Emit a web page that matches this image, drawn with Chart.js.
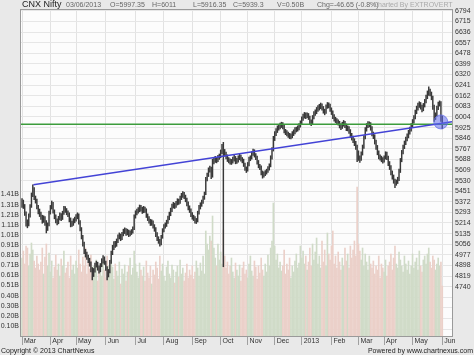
<!DOCTYPE html>
<html>
<head>
<meta charset="utf-8">
<title>CNX Nifty</title>
<script src="https://cdn.jsdelivr.net/npm/chart.js"></script>
<style>
    html, body { margin: 0; padding: 0; background: #e9e9e9; }
    #wrap { width: 474px; height: 355px; position: relative; }
</style>
</head>
<body>
<div id="wrap"><canvas id="niftyChart"></canvas></div>
<script>
// daily closes, 1 Mar 2012 .. 3 Jun 2013 (trading days)
const closes = [
    5370,5340,5290,5220,5200,5270,5340,5420,5470,5400, 5380,5330,5300,5280,5260,5230,5250,5220,5170,5200,
    5290,5330,5360,5300,5260,5230,5220,5250,5270,5250, 5290,5320,5310,5290,5280,5240,5200,5210,5230,5240,
    5260,5270,5220,5170,5110,5060,5000,4980,4960,4940, 4910,4870,4830,4860,4900,4910,4880,4860,4900,4930,
    4950,4920,4880,4840,4850,4920,4990,5030,5060,5050, 5080,5110,5120,5100,5130,5150,5160,5140,5150,5130,
    5140,5150,5170,5260,5290,5300,5310,5330,5320,5300, 5320,5310,5270,5250,5230,5210,5220,5190,5170,5130,
    5100,5080,5060,5110,5160,5190,5200,5220,5250,5280, 5310,5340,5350,5340,5360,5380,5370,5400,5420,5430,
    5410,5390,5360,5330,5310,5280,5260,5250,5230,5230, 5290,5330,5350,5370,5400,5430,5540,5570,5610,5620,
    5560,5670,5680,5690,5680,5700,5710,5740,5780,5750, 5730,5710,5690,5680,5670,5670,5690,5700,5670,5680,
    5700,5710,5690,5680,5650,5620,5610,5650,5690,5700, 5730,5750,5720,5700,5670,5640,5630,5590,5570,5580,
    5590,5600,5620,5640,5700,5760,5840,5880,5900,5920, 5930,5940,5950,5930,5900,5890,5880,5870,5860,5860,
    5880,5890,5910,5910,5920,5940,5960,5990,6010,6020, 6010,6020,6000,5970,5960,6000,6030,6040,6060,6070,
    6080,6090,6070,6050,6040,6080,6100,6090,6060,6040, 6010,5990,5980,5970,5960,5940,5930,5950,5960,5940,
    5920,5920,5900,5870,5850,5830,5810,5780,5740,5700, 5690,5730,5780,5850,5910,5940,5950,5950,5920,5880,
    5860,5820,5780,5740,5710,5700,5690,5680,5700,5730, 5700,5660,5630,5590,5560,5530,5510,5520,5540,5600,
    5680,5740,5780,5810,5840,5860,5890,5910,5940,5970, 6000,6040,6070,6090,6100,6080,6060,6090,6120,6150,
    6180,6200,6180,6150,6080,6000,6020,6070,6100,6110, 5986,5939
];
const highs = [
    5395,5385,5352,5298,5238,5282,5352,5438,5499,5478, 5415,5392,5345,5318,5296,5272,5268,5262,5232,5215,
    5302,5345,5378,5368,5312,5275,5245,5264,5290,5284, 5302,5338,5336,5322,5305,5290,5252,5228,5246,5258,
    5276,5290,5282,5232,5180,5122,5072,5018,4998,4975, 4952,4925,4882,4875,4915,4930,4922,4895,4912,4948,
    4972,4962,4930,4890,4868,4935,5005,5048,5075,5078, 5095,5125,5140,5132,5145,5168,5178,5172,5168,5162,
    5155,5165,5185,5275,5305,5318,5328,5348,5345,5332, 5338,5332,5320,5282,5262,5242,5238,5230,5202,5180,
    5142,5112,5092,5122,5172,5202,5215,5235,5265,5295, 5325,5355,5368,5362,5375,5395,5392,5415,5435,5448,
    5442,5422,5400,5372,5342,5320,5292,5272,5262,5248, 5302,5345,5365,5385,5415,5445,5555,5585,5625,5638,
    5630,5690,5698,5710,5702,5718,5728,5758,5800,5815, 5762,5742,5722,5702,5692,5688,5705,5718,5710,5695,
    5715,5728,5720,5702,5690,5660,5632,5665,5705,5715, 5745,5765,5760,5732,5712,5680,5652,5640,5602,5595,
    5605,5615,5635,5655,5715,5775,5860,5895,5918,5938, 5948,5958,5965,5962,5942,5912,5902,5892,5882,5878,
    5895,5908,5925,5928,5938,5955,5975,6005,6025,6038, 6035,6035,6030,6010,5982,6015,6045,6058,6075,6088,
    6098,6108,6102,6082,6062,6095,6112,6110,6100,6072, 6050,6022,6002,5992,5982,5972,5952,5965,5978,5972,
    5952,5938,5932,5910,5882,5862,5842,5822,5795,5752, 5715,5745,5795,5865,5925,5955,5970,5968,5962,5932,
    5892,5872,5832,5792,5752,5722,5712,5702,5715,5745, 5742,5712,5672,5642,5602,5572,5542,5535,5555,5615,
    5695,5755,5795,5825,5855,5878,5905,5928,5955,5985, 6015,6055,6085,6108,6118,6112,6092,6105,6135,6168,
    6198,6229,6212,6190,6160,6092,6035,6085,6115,6124, 6118,6011
];
const lows = [
    5330,5322,5270,5190,5178,5192,5258,5330,5410,5388, 5362,5318,5282,5262,5240,5212,5218,5196,5140,5158,
    5192,5280,5318,5288,5245,5215,5200,5208,5236,5232, 5240,5278,5292,5275,5262,5222,5185,5188,5196,5215,
    5228,5245,5205,5155,5095,5042,4985,4960,4942,4918, 4892,4850,4790,4815,4848,4885,4862,4840,4850,4888,
    4915,4905,4860,4790,4812,4842,4912,4978,5015,5032, 5040,5068,5095,5082,5090,5118,5135,5122,5125,5112,
    5118,5128,5138,5165,5250,5275,5288,5298,5302,5285, 5290,5292,5255,5232,5212,5195,5196,5175,5152,5112,
    5082,5062,5042,5050,5100,5148,5175,5188,5210,5238, 5268,5298,5325,5322,5330,5348,5352,5360,5388,5405,
    5395,5372,5342,5312,5292,5262,5242,5232,5212,5210, 5222,5280,5318,5338,5360,5390,5425,5528,5560,5592,
    5545,5555,5655,5665,5662,5670,5688,5700,5730,4888, 5712,5692,5672,5662,5652,5650,5660,5675,5655,5658,
    5668,5685,5675,5662,5635,5605,5590,5600,5640,5678, 5690,5718,5705,5685,5652,5625,5612,5572,5548,5555,
    5566,5578,5590,5608,5632,5690,5750,5828,5865,5888, 5905,5915,5925,5915,5885,5872,5862,5852,5842,5840,
    5848,5865,5878,5892,5898,5908,5928,5950,5978,5995, 5992,5998,5985,5952,5940,5950,5990,6015,6028,6045,
    6055,6065,6055,6032,6020,6030,6068,6072,6045,6022, 5992,5972,5962,5950,5942,5922,5910,5918,5935,5925,
    5902,5900,5882,5852,5832,5812,5790,5762,5670,5680, 5665,5680,5720,5770,5840,5898,5925,5930,5905,5862,
    5842,5802,5762,5722,5692,5682,5670,5660,5668,5690, 5685,5642,5612,5572,5540,5510,5477,5495,5508,5530,
    5590,5670,5728,5768,5798,5825,5848,5875,5898,5928, 5958,5990,6028,6055,6075,6062,6042,6050,6078,6108,
    6140,6165,6160,6132,6060,5970,5985,6010,6058,6085, 5970,5916
];
// daily volume, billions of shares
const volumes = [
    0.78,0.85,0.72,0.90,0.88,0.70,0.82,0.93,0.86,0.75, 0.68,0.80,0.72,0.66,0.74,0.88,0.62,0.79,0.92,0.70,
    0.83,0.64,0.75,0.58,0.69,0.81,0.66,0.72,0.60,0.77, 0.70,0.85,0.63,0.68,0.74,0.58,0.80,0.66,0.71,0.62,
    0.75,0.68,0.86,0.72,0.64,0.79,0.70,0.88,0.62,0.73, 0.67,0.81,0.59,0.70,0.64,0.76,0.55,0.68,0.72,0.60,
    0.74,0.66,0.58,0.80,0.70,0.63,0.77,0.69,0.57,0.72, 0.65,0.60,0.74,0.52,0.67,0.62,0.71,0.55,0.64,0.70,
    0.78,0.61,0.68,0.85,0.72,0.64,0.58,0.73,0.66,0.60, 0.69,0.55,0.75,0.63,0.58,0.70,0.52,0.66,0.61,0.74,
    0.68,0.57,0.80,0.65,0.72,0.60,0.55,0.69,0.75,0.62, 0.58,0.71,0.66,0.53,0.64,0.70,0.59,0.76,0.62,0.68,
    0.55,0.63,0.72,0.58,0.66,0.61,0.70,0.57,0.64,0.75, 0.68,0.60,0.73,0.65,0.80,0.62,1.05,0.92,0.86,1.00,
    0.95,1.20,0.88,0.78,0.70,0.92,0.76,0.84,0.72,1.06, 0.80,0.68,0.74,0.62,0.70,0.78,0.64,0.58,0.73,0.66,
    0.60,0.71,0.55,0.68,0.74,0.62,0.66,0.58,0.72,0.80, 0.65,0.60,0.75,0.69,0.57,0.70,0.63,0.78,0.66,0.60,
    0.72,0.64,0.81,0.70,0.88,0.95,1.33,0.90,0.76,0.82, 0.68,0.74,0.65,0.70,0.86,0.62,0.72,0.66,0.78,0.58,
    0.70,0.64,0.75,0.82,0.68,0.73,0.90,0.78,0.85,0.72, 0.80,0.66,0.74,0.88,0.70,0.92,0.76,0.84,0.98,0.72,
    0.80,0.68,0.95,0.74,0.86,0.70,1.03,0.82,0.76,0.90, 1.05,0.72,0.80,0.68,0.84,0.74,0.66,0.78,0.70,0.88,
    0.75,0.82,0.68,0.90,0.78,0.86,0.95,0.80,1.49,0.92, 0.85,0.76,0.88,0.70,0.82,0.74,0.66,0.80,0.72,0.68,
    0.75,0.62,0.70,0.66,0.80,0.58,0.72,0.68,0.64,0.76, 0.60,0.70,0.74,0.82,0.66,0.78,0.90,0.72,0.68,0.84,
    0.76,0.70,0.64,0.80,0.72,0.66,0.75,0.62,0.70,0.82, 0.68,0.74,0.78,0.66,0.85,0.70,0.64,0.76,0.80,0.72,
    0.82,0.88,0.74,0.68,0.80,0.76,0.66,0.72,0.78,0.70, 0.74,0.50
];

const monthStarts = [0, 21, 40, 62, 84, 105, 126, 147, 167, 187, 207, 229, 249, 268, 289, 311];
const monthLabels = ['Mar', 'Apr', 'May', 'Jun', 'Jul', 'Aug', 'Sep', 'Oct', 'Nov', 'Dec', '2013', 'Feb', 'Mar', 'Apr', 'May', 'Jun'];
const priceTicks = [6794, 6715, 6636, 6557, 6478, 6399, 6320, 6241, 6162, 6083, 6004, 5925, 5846, 5767, 5688,
    5609, 5530, 5451, 5372, 5293, 5214, 5135, 5056, 4977, 4898, 4819, 4740];
const volTickLabels = ['0.10B', '0.20B', '0.30B', '0.40B', '0.51B', '0.61B', '0.71B', '0.81B', '0.91B', '1.01B',
    '1.11B', '1.21B', '1.31B', '1.41B'];
const volStep = 0.10104;

// drawn studies
const supportLevel = 5950;
const trendStart = { day: 8.4, price: 5499 };
const trendEnd = { day: 318.2, price: 5968 };
const marker = { day: 309.9, price: 5967 };

const headerItems = [
    ['CNX Nifty', 22], ['03/06/2013', 66], ['O=5997.35', 110], ['H=6011', 152], ['L=5916.35', 193],
    ['C=5939.3', 233], ['V=0.50B', 277], ['Chg=-46.65 (-0.8%)', 317], ['Charted By EXTROVERT', 373]
];

const X_MIN = -0.74, X_MAX = 318.2;
const FONT = "'Liberation Sans', Arial, sans-serif";

const volColors = volumes.map((v, i) =>
    (i === 0 || closes[i] >= closes[i - 1]) ? '#d0dbc8' : '#ebd0c9');

const frame = {
    id: 'frame',
    beforeDraw(chart) {
        const { ctx, chartArea: a } = chart;
        ctx.save();
        ctx.fillStyle = '#e9e9e9';
        ctx.fillRect(0, 0, chart.width, chart.height);
        ctx.fillStyle = '#fcfcfc';
        ctx.fillRect(a.left, a.top, a.right - a.left, a.bottom - a.top);
        ctx.restore();
    },
    afterDraw(chart) {
        const { ctx, chartArea: a } = chart;
        ctx.save();
        ctx.strokeStyle = '#9a9a9a';
        ctx.lineWidth = 1;
        ctx.strokeRect(a.left - 0.5, a.top - 0.5, a.right - a.left + 1, a.bottom - a.top + 1);

        ctx.textBaseline = 'middle';
        ctx.textAlign = 'left';
        headerItems.forEach(([t, x], i) => {
            if (i === 0) {
                ctx.font = '9px ' + FONT;
                ctx.fillStyle = '#222';
            } else if (i === headerItems.length - 1) {
                ctx.font = '7px ' + FONT;
                ctx.fillStyle = '#aaa';
            } else {
                ctx.font = '7px ' + FONT;
                ctx.fillStyle = '#666';
            }
            ctx.fillText(t, x, 5);
        });

        ctx.font = '7px ' + FONT;
        ctx.fillStyle = '#222';
        ctx.fillText('Copyright \u00a9 2013 ChartNexus', 1, 351);
        ctx.textAlign = 'right';
        ctx.fillText('Powered by www.chartnexus.com', 473, 351);
        ctx.restore();
    }
};

new Chart(document.getElementById('niftyChart'), {
    type: 'bar',
    data: {
        datasets: [
            {
                type: 'scatter',
                data: [{ x: marker.day, y: marker.price }],
                yAxisID: 'yp',
                pointRadius: 7,
                backgroundColor: 'rgba(95,105,235,0.55)',
                borderColor: 'rgba(95,105,235,0.7)',
                borderWidth: 1,
                order: 1
            },
            {
                type: 'line',
                data: [{ x: trendStart.day, y: trendStart.price }, { x: trendEnd.day, y: trendEnd.price }],
                yAxisID: 'yp',
                borderColor: '#4343d6',
                borderWidth: 1.5,
                pointRadius: 0,
                order: 2
            },
            {
                type: 'line',
                data: [{ x: X_MIN, y: supportLevel }, { x: X_MAX, y: supportLevel }],
                yAxisID: 'yp',
                borderColor: '#3c9c3c',
                borderWidth: 1.5,
                pointRadius: 0,
                order: 3
            },
            {
                data: highs.map((h, i) => ({ x: i, y: [lows[i], h] })),
                yAxisID: 'yp',
                backgroundColor: '#383838',
                barThickness: 0.8,
                grouped: false,
                order: 4
            },
            {
                data: volumes.map((v, i) => ({ x: i, y: v })),
                yAxisID: 'yv',
                backgroundColor: volColors,
                barThickness: 1,
                grouped: false,
                order: 5
            }
        ]
    },
    options: {
        responsive: true,
        maintainAspectRatio: false,
        animation: false,
        layout: { padding: { top: 10, left: 0, right: 0, bottom: 0 } },
        plugins: {
            legend: { display: false },
            tooltip: { enabled: false }
        },
        scales: {
            x: {
                type: 'linear',
                min: X_MIN,
                max: X_MAX,
                offset: false,
                grid: { color: '#e2e2e2', offset: false, tickLength: 9, tickColor: '#a0a0a0' },
                border: { display: false },
                ticks: {
                    font: { size: 7, family: FONT },
                    color: '#333',
                    align: 'start',
                    padding: -8,
                    maxRotation: 0,
                    autoSkip: false,
                    callback: v => ' ' + monthLabels[monthStarts.indexOf(v)]
                },
                afterBuildTicks: s => { s.ticks = monthStarts.map(v => ({ value: v })); },
                afterFit: s => { s.height = 19; }
            },
            yp: {
                position: 'right',
                min: 4372,
                max: 6801,
                grid: { color: '#e6e6e6', drawTicks: false },
                border: { display: false },
                ticks: {
                    font: { size: 7, family: FONT },
                    color: '#333',
                    padding: 3,
                    autoSkip: false,
                    callback: v => priceTicks.includes(v) ? String(v) : ''
                },
                afterBuildTicks: s => {
                    const t = priceTicks.slice();
                    let v = priceTicks[priceTicks.length - 1] - 79;
                    while (v > s.min) { t.push(v); v -= 79; }
                    s.ticks = t.map(value => ({ value }));
                },
                afterFit: s => { s.width = 22; }
            },
            yv: {
                position: 'left',
                min: 0,
                max: 3.26,
                grid: { display: false, drawTicks: false },
                border: { display: false },
                ticks: {
                    font: { size: 7, family: FONT },
                    color: '#333',
                    padding: 2,
                    autoSkip: false,
                    callback: (v, i) => volTickLabels[i]
                },
                afterBuildTicks: s => {
                    s.ticks = volTickLabels.map((l, k) => ({ value: (k + 1) * volStep }));
                },
                afterFit: s => { s.width = 21; }
            }
        }
    },
    plugins: [frame]
});
</script>
</body>
</html>
